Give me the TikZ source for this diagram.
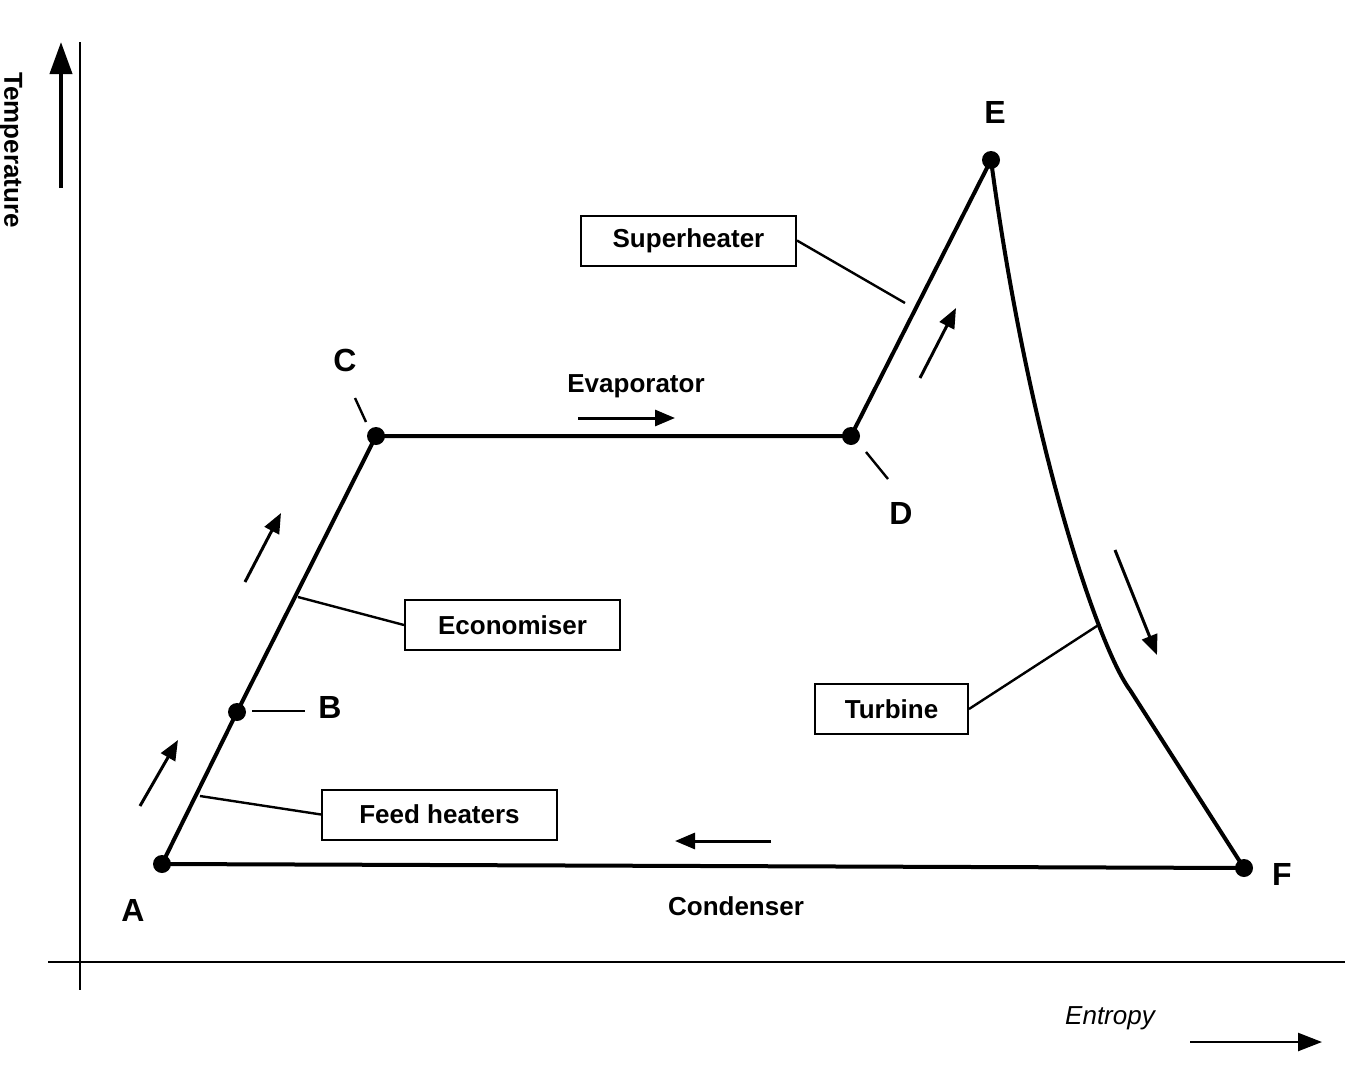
\documentclass[tikz,border=0pt]{standalone}
\usepackage{fontspec}
\setmainfont{Liberation Sans}
\usetikzlibrary{arrows.meta}
\begin{document}
\begin{tikzpicture}[x=0.5pt,y=-0.5pt,
 lab/.style={font=\fontsize{13}{15}\selectfont\bfseries},
 big/.style={font=\fontsize{16}{18}\selectfont\bfseries},
 box/.style={draw,line width=1pt,lab,minimum height=25pt,inner sep=0pt},
 pt/.style={circle,fill,inner sep=0pt,minimum size=9pt},
 curve/.style={line width=2pt},
 arr/.style={line width=1.5pt,-{Triangle[length=10pt,width=8pt]}}]
\useasboundingbox (0,0) rectangle (1345,1082);
\draw[line width=1.2pt] (80,42) -- (80,990);
\draw[line width=1.2pt] (48,962) -- (1345,962);
\draw[line width=2pt,-{Triangle[length=16pt,width=11pt]}] (61,188) -- (61,42);
\node[rotate=-90,anchor=south,font=\fontsize{13}{15}\selectfont\bfseries] (T) at (-8,150) {Temperature};
\draw[line width=1.2pt,-{Triangle[length=12pt,width=9pt]}] (1190,1042) -- (1322,1042);
\node[font=\fontsize{13}{15}\selectfont\itshape] (en) at (1110,1018) {Entropy};
\node[pt] (A) at (162,864) {};
\node[pt] (B) at (237,712) {};
\node[pt] (C) at (376,436) {};
\node[pt] (D) at (851,436) {};
\node[pt] (E) at (991,160) {};
\node[pt] (F) at (1244,868) {};
\draw[curve] (A.center) -- (B.center) -- (C.center) -- (D.center) -- (E.center)
  .. controls (1030,450) and (1100,650) .. (1130,690) -- (F.center) -- (A.center);
\node[big] (lA) at (133,910) {A};
\node[big] (lB) at (330,707) {B};
\node[big] (lC) at (345,360) {C};
\node[big] (lD) at (901,513) {D};
\node[big] (lE) at (995,112) {E};
\node[big] (lF) at (1282,874) {F};
\coordinate (b1) at (252,711); \coordinate (b2) at (305,711);
\draw[line width=1.2pt] (b1) -- (b2);
\coordinate (c1) at (366,422); \coordinate (c2) at (355,398);
\draw[line width=1.2pt] (c1) -- (c2);
\coordinate (d1) at (866,452); \coordinate (d2) at (888,479);
\draw[line width=1.2pt] (d1) -- (d2);
\node[lab] (cond) at (736,906) {Condenser};
\node[lab] (evap) at (636,386) {Evaporator};
\node[box,minimum width=107.5pt] (sh) at (688.5,240.5) {Superheater};
\node[box,minimum width=107.5pt] (ec) at (512.5,625) {Economiser};
\node[box,minimum width=117.5pt] (fh) at (439.5,814.5) {Feed heaters};
\node[box,minimum width=76.5pt] (tu) at (891.5,709) {Turbine};
\coordinate (s2) at (905,303); \coordinate (e2) at (298,597);
\coordinate (f2) at (200,796); \coordinate (t2) at (1100,624);
\draw[line width=1.2pt] (sh.east) -- (s2);
\draw[line width=1.2pt] (ec.west) -- (e2);
\draw[line width=1.2pt] (fh.west) -- (f2);
\draw[line width=1.2pt] (tu.east) -- (t2);
\coordinate (a1) at (140,806); \coordinate (a2) at (178,740);
\coordinate (a3) at (245,582); \coordinate (a4) at (281,513);
\coordinate (a5) at (920,378); \coordinate (a6) at (956,308);
\coordinate (a7) at (1115,550); \coordinate (a8) at (1157,655);
\coordinate (a9) at (771,841); \coordinate (a10) at (675,841);
\coordinate (a11) at (578,418); \coordinate (a12) at (675,418);
\draw[arr] (a1) -- (a2);
\draw[arr] (a3) -- (a4);
\draw[arr] (a5) -- (a6);
\draw[arr] (a7) -- (a8);
\draw[arr] (a9) -- (a10);
\draw[arr] (a11) -- (a12);
\end{tikzpicture}
\end{document}
